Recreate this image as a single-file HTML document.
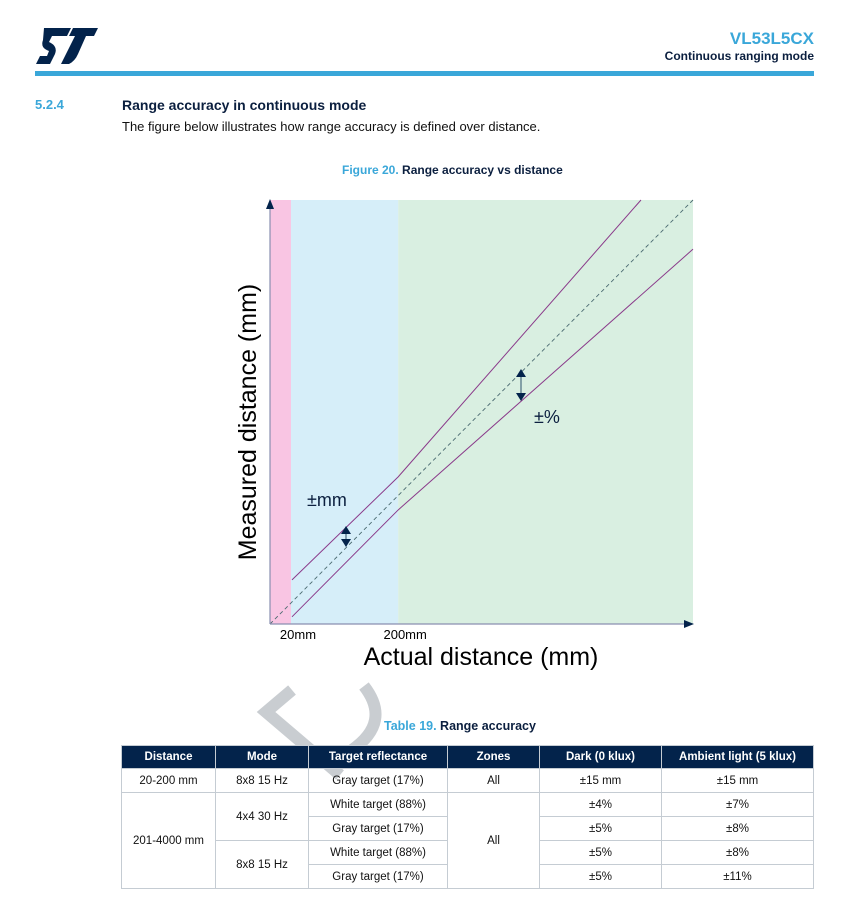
<!DOCTYPE html>
<html><head><meta charset="utf-8"><style>
body{margin:0;background:#fff;font-family:"Liberation Sans",sans-serif;}
#p{position:relative;width:856px;height:910px;overflow:hidden;}
.t{position:absolute;white-space:nowrap;}
table{position:absolute;left:121px;top:745px;width:693px;border-collapse:collapse;font-size:11.5px;color:#111;}
td,th{border:1px solid #c5ccd3;text-align:center;padding:0;}
th{background:#03234b;color:#fff;height:22px;font-weight:bold;border-color:#c5ccd3;}
td{height:23px;}
</style></head><body>
<div id="p">
<svg style="position:absolute;left:0;top:0" width="856" height="910">
<path d="M292 690 L266 712 L340 775" stroke="#c9cdd1" stroke-width="12" fill="none"/>
<path d="M364 686 Q392 722 352 750" stroke="#c9cdd1" stroke-width="12" fill="none"/>
</svg>
<svg style="position:absolute;left:35px;top:28px" width="64" height="36" viewBox="0 0 64 36">
<path d="M9 0 H36 L32 8 H17 L14 14 Q23 18 20 26 L15 36 H1 L5 28 H12 L14 23 Q5 20 8 12 Z" fill="#03234b"/>
<path d="M38 0 H63 L59 8 H51 L43 26 Q40 33 34 36 H26 L40 8 H34 Z" fill="#03234b"/>
</svg>
<div class="t" style="right:42px;top:29px;font-size:17px;font-weight:bold;color:#3aa7d9">VL53L5CX</div>
<div class="t" style="right:42px;top:49px;font-size:12px;font-weight:bold;color:#0b1f3f">Continuous ranging mode</div>
<div style="position:absolute;left:35px;top:71px;width:779px;height:5px;background:#3aa7d9"></div>
<div class="t" style="left:35px;top:97px;font-size:13px;font-weight:bold;color:#3aa7d9">5.2.4</div>
<div class="t" style="left:122px;top:97px;font-size:14px;font-weight:bold;color:#0b1f3f">Range accuracy in continuous mode</div>
<div class="t" style="left:122px;top:119px;font-size:13px;color:#111">The figure below illustrates how range accuracy is defined over distance.</div>
<div class="t" style="left:342px;top:163px;font-size:12px;font-weight:bold;color:#0b1f3f"><span style="color:#3aa7d9">Figure 20.</span> Range accuracy vs distance</div>
<svg id="chart" style="position:absolute;left:0;top:0" width="856" height="700"></svg>
<div class="t" style="left:384px;top:719px;font-size:12.5px;font-weight:bold;color:#0b1f3f"><span style="color:#3aa7d9">Table 19.</span> Range accuracy</div>
<table>
<tr><th style="width:93px">Distance</th><th style="width:92px">Mode</th><th style="width:138px">Target reflectance</th><th style="width:91px">Zones</th><th style="width:121px">Dark (0 klux)</th><th>Ambient light (5 klux)</th></tr>
<tr><td>20-200 mm</td><td>8x8 15 Hz</td><td>Gray target (17%)</td><td>All</td><td>±15 mm</td><td>±15 mm</td></tr>
<tr><td rowspan="4">201-4000 mm</td><td rowspan="2">4x4 30 Hz</td><td>White target (88%)</td><td rowspan="4">All</td><td>±4%</td><td>±7%</td></tr>
<tr><td>Gray target (17%)</td><td>±5%</td><td>±8%</td></tr>
<tr><td rowspan="2">8x8 15 Hz</td><td>White target (88%)</td><td>±5%</td><td>±8%</td></tr>
<tr><td>Gray target (17%)</td><td>±5%</td><td>±11%</td></tr>
</table>
</div>
<script>
const bandStarts=[0,4.96,30.3];
const bandEnds=[4.96,30.3,100];
const bandNames=['band-too-close','band-mm-accuracy','band-percent-accuracy'];
const bandColors=['#f9c5e3','#d6eef9','#d9efe1'];
const idealX=[0,100];const idealY=[0,100];
const upperX=[5.2,30.3,87.7];const upperY=[10.4,34.7,100];
const lowerX=[5.2,30.3,100];const lowerY=[1.7,26.9,88.4];
const tickValues=[4.96,30.3];const tickLabels=['20mm','200mm'];
const X0=270,Y0=624,W=423,H=424;
const sx=u=>X0+u*W/100, sy=v=>Y0-v*H/100;
const svg=document.getElementById('chart');const NS='http://www.w3.org/2000/svg';
function mk(tag,attrs){const e=document.createElementNS(NS,tag);for(const k in attrs)e.setAttribute(k,attrs[k]);svg.appendChild(e);return e;}
bandStarts.forEach((s,i)=>{const r=mk('rect',{x:sx(s),y:sy(100),width:sx(bandEnds[i])-sx(s),height:sy(0)-sy(100),fill:bandColors[i]});

});
function line(xs,ys,name,extra){const d=xs.map((x,i)=>(i?'L':'M')+sx(x)+' '+sy(ys[i])).join(' ');const p=mk('path',Object.assign({d:d,fill:'none'},extra));

}
line(idealX,idealY,'ideal-line',{stroke:'#4a6a70','stroke-width':0.9,'stroke-dasharray':'4 3'});
line(upperX,upperY,'upper-bound-line',{stroke:'#8a3a8a','stroke-width':1});
line(lowerX,lowerY,'lower-bound-line',{stroke:'#8a3a8a','stroke-width':1});
const ax=mk('path',{d:`M${X0} ${Y0} H688 M${X0} ${Y0} V206`,stroke:'#8a8fb0','stroke-width':1.2,fill:'none'});

const ah=mk('path',{d:`M694 ${Y0} L684 ${Y0-4} L684 ${Y0+4}Z M${X0} 199 L${X0-4} 209 L${X0+4} 209Z`,fill:'#03234b'});

function txt(x,y,s,size,name,anchor,rot){const t=mk('text',{x:x,y:y,'font-size':size,fill:'#000','font-family':'Liberation Sans, sans-serif','text-anchor':anchor||'start'});if(rot)t.setAttribute('transform',rot);t.textContent=s;

return t;}
tickValues.forEach((v,i)=>{txt(sx(v)+7,639,tickLabels[i],13,'x-tick-label','middle');});
txt(481,665,'Actual distance (mm)',25,'x-axis-title','middle');
txt(256,422,'Measured distance (mm)',25,'y-axis-title','middle','rotate(-90 256 422)');
txt(307,506,'±mm',18,'mm-label').setAttribute('fill','#0b1f3f');
txt(534,423,'±%',18,'percent-label').setAttribute('fill','#0b1f3f');
function darrow(x,y1,y2,name){const g=mk('path',{d:`M${x} ${y1+4} V${y2-4}`,stroke:'#4a6a80','stroke-width':1.2});

const h=mk('path',{d:`M${x} ${y1} L${x-5} ${y1+8} L${x+5} ${y1+8}Z M${x} ${y2} L${x-5} ${y2-8} L${x+5} ${y2-8}Z`,fill:'#03234b'});
}
darrow(346,526,547,'mm-arrow');darrow(521,369,401,'percent-arrow');
</script>
</body></html>
